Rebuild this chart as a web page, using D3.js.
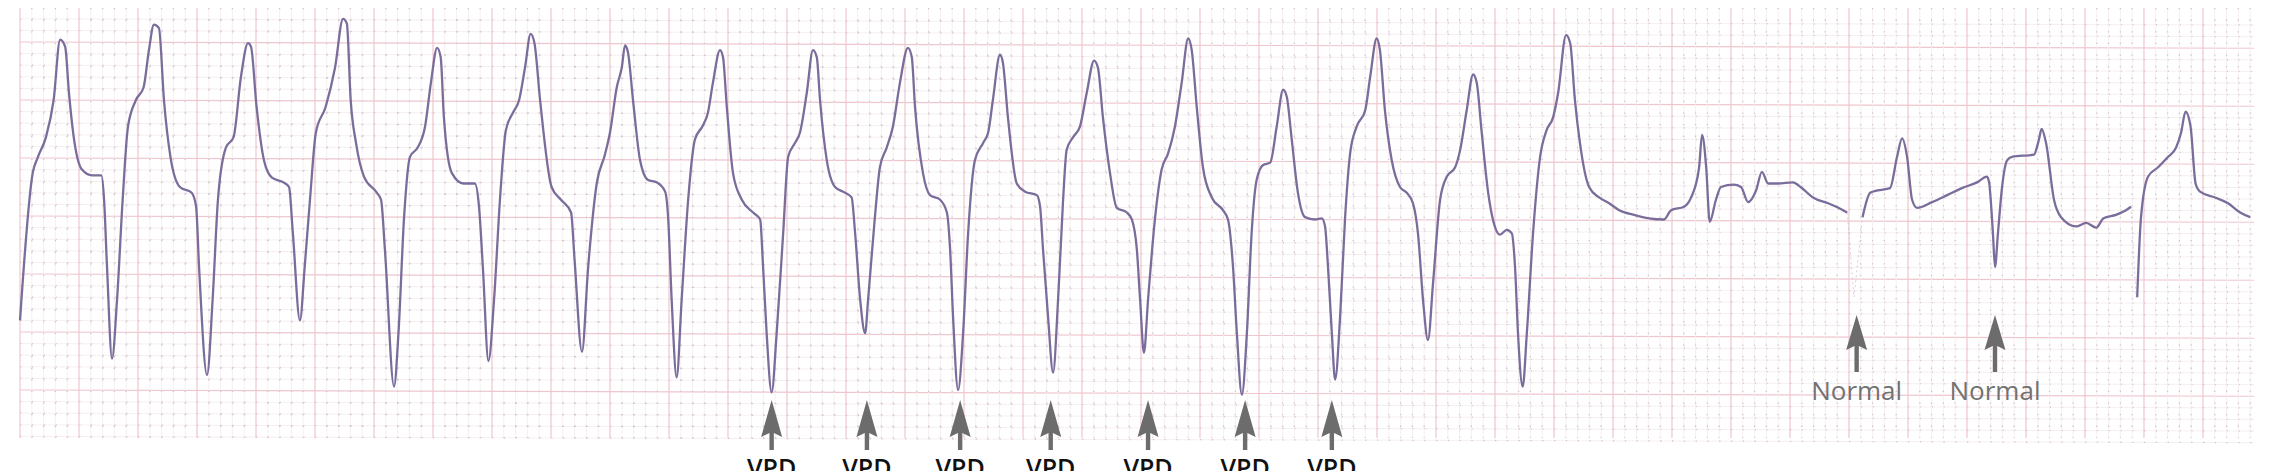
<!DOCTYPE html>
<html>
<head>
<meta charset="utf-8">
<script src="https://cdn.jsdelivr.net/npm/d3@7"></script>
<style>
  body { margin: 0; background: #fff; }
  svg { display: block; }
</style>
</head>
<body>
<script>
// width and height of the page
var w = 2279;
var h = 471;

// ECG rhythm strip: [time in ms, amplitude in mV]
// run of wide ventricular complexes up to the pause
var stripA = [
  [0,-0.90],[43,0.37],[61,0.51],[88,0.68],[114,1.00],[136,1.52],[153,1.46],[166,1.06],[185,0.63],[210,0.40],
  [244,0.35],[276,0.35],[285,0.14],[295,-0.44],[312,-1.23],[329,-0.72],[348,0.14],[366,0.77],[393,1.00],[419,1.11],
  [437,1.43],[454,1.65],[471,1.62],[488,1.00],[510,0.51],[542,0.25],[582,0.20],[597,0.08],[607,-0.44],[634,-1.37],
  [653,-0.72],[671,0.14],[698,0.59],[724,0.68],[749,1.20],[773,1.49],[783,1.46],[802,0.94],[827,0.48],[854,0.33],
  [893,0.29],[912,0.25],[925,-0.15],[949,-0.90],[965,-0.44],[983,0.14],[1003,0.72],[1036,0.94],[1068,1.28],[1095,1.70],
  [1108,1.66],[1121,1.00],[1139,0.63],[1166,0.34],[1210,0.20],[1224,0.14],[1237,-0.29],[1268,-1.47],[1283,-1.01],[1302,-0.01],
  [1322,0.51],[1348,0.59],[1373,0.77],[1393,1.15],[1414,1.45],[1426,1.37],[1437,0.85],[1464,0.37],[1504,0.28],[1542,0.28],
  [1556,0.08],[1569,-0.44],[1588,-1.25],[1607,-0.72],[1627,0.14],[1647,0.74],[1671,0.89],[1692,1.00],[1712,1.28],[1731,1.57],
  [1744,1.49],[1763,1.00],[1802,0.25],[1834,0.14],[1868,0.03],[1880,-0.38],[1905,-1.17],[1926,-0.44],[1955,0.28],[1983,0.53],
  [2000,0.72],[2023,1.11],[2040,1.28],[2051,1.47],[2061,1.41],[2078,1.00],[2102,0.48],[2129,0.31],[2158,0.29],[2187,0.21],
  [2197,-0.01],[2209,-0.72],[2226,-1.39],[2243,-0.72],[2265,0.14],[2288,0.66],[2315,0.78],[2332,0.89],[2349,1.15],[2373,1.43],
  [2383,1.37],[2396,0.94],[2417,0.37],[2447,0.14],[2485,0.03],[2509,-0.03],[2519,-0.44],[2531,-1.01],[2548,-1.52],[2565,-1.01],
  [2587,-0.15],[2604,0.51],[2627,0.63],[2644,0.72],[2667,1.06],[2688,1.43],[2701,1.37],[2712,1.00],[2735,0.48],[2763,0.25],
  [2790,0.21],[2819,0.16],[2831,-0.15],[2848,-0.72],[2865,-1.01],[2875,-0.72],[2898,-0.01],[2915,0.42],[2938,0.59],[2959,0.77],
  [2983,1.15],[3010,1.45],[3023,1.37],[3034,0.94],[3061,0.37],[3085,0.18],[3119,0.14],[3142,0.03],[3153,-0.29],[3163,-0.87],
  [3180,-1.50],[3197,-1.01],[3214,-0.15],[3237,0.48],[3265,0.63],[3282,0.72],[3298,1.00],[3322,1.39],[3332,1.32],[3349,0.85],
  [3379,0.28],[3407,0.21],[3447,0.18],[3458,0.08],[3468,-0.29],[3485,-0.87],[3502,-1.35],[3519,-0.72],[3536,0.14],[3548,0.57],
  [3570,0.68],[3593,0.77],[3616,1.06],[3641,1.34],[3654,1.28],[3671,0.85],[3695,0.37],[3718,0.07],[3752,0.03],[3769,-0.03],
  [3786,-0.29],[3797,-0.72],[3810,-1.18],[3824,-0.72],[3848,-0.01],[3870,0.40],[3892,0.54],[3915,0.77],[3938,1.15],[3960,1.53],
  [3972,1.43],[3989,0.94],[4010,0.42],[4040,0.16],[4078,0.05],[4095,-0.03],[4112,-0.44],[4125,-1.01],[4142,-1.54],[4159,-1.01],
  [4175,-0.15],[4192,0.31],[4214,0.44],[4238,0.46],[4260,0.77],[4282,1.09],[4294,1.03],[4311,0.66],[4332,0.20],[4356,-0.01],
  [4390,-0.03],[4413,-0.02],[4424,-0.09],[4434,-0.44],[4447,-1.01],[4458,-1.41],[4475,-0.87],[4492,-0.01],[4509,0.54],[4531,0.77],
  [4560,0.91],[4577,1.20],[4599,1.53],[4610,1.43],[4627,0.91],[4650,0.48],[4678,0.25],[4701,0.20],[4722,0.11],[4739,-0.15],
  [4756,-0.72],[4773,-1.07],[4790,-0.58],[4814,0.14],[4837,0.34],[4865,0.42],[4882,0.57],[4904,0.91],[4926,1.22],[4938,1.15],
  [4955,0.72],[4977,0.20],[4993,-0.03],[5017,-0.16],[5040,-0.12],[5057,-0.15],[5068,-0.44],[5078,-1.01],[5094,-1.47],[5108,-1.01],
  [5129,-0.15],[5153,0.51],[5175,0.74],[5197,0.85],[5214,1.06],[5241,1.56],[5255,1.49],[5271,1.00],[5288,0.63],[5319,0.25],
  [5353,0.16],[5387,0.11],[5421,0.05],[5471,0.01],[5522,-0.02],[5573,-0.03],[5597,0.05],[5641,0.08],[5665,0.16],[5692,0.42],
  [5702,0.70],[5716,0.42],[5728,-0.05],[5749,0.14],[5766,0.25],[5809,0.27],[5834,0.25],[5858,0.12],[5885,0.22],[5905,0.38],
  [5926,0.28],[5960,0.28],[6010,0.29],[6036,0.25],[6078,0.16],[6129,0.11],[6180,0.05],[6194,0.03]
];
// barely printed QRS under the first "Normal" arrow
var faintQrs1 = [[6194,0.03],[6217,-0.70],[6246,-0.01]];
var stripB = [
  [6246,-0.01],[6272,0.20],[6297,0.22],[6339,0.24],[6363,0.51],[6380,0.67],[6397,0.51],[6414,0.14],[6431,0.07],[6482,0.12],
  [6533,0.18],[6583,0.24],[6634,0.29],[6668,0.34],[6675,0.29],[6688,-0.15],[6695,-0.44],[6705,-0.15],[6719,0.25],[6736,0.48],
  [6753,0.51],[6827,0.53],[6844,0.66],[6853,0.75],[6868,0.63],[6895,0.14],[6919,-0.01],[6970,-0.09],[7004,-0.06],[7038,-0.10],
  [7063,-0.02],[7105,0.01],[7139,0.05],[7156,0.08]
];
var faintQrs2 = [[7156,0.08],[7173,-0.70]];
var stripC = [
  [7177,-0.70],[7190,-0.01],[7214,0.34],[7248,0.42],[7282,0.51],[7309,0.59],[7326,0.72],[7341,0.90],[7358,0.77],[7375,0.28],
  [7390,0.21],[7441,0.16],[7485,0.11],[7526,0.03],[7560,-0.01]
];

// annotated beats (time in ms)
var vpdTimes = [2548, 2871, 3187, 3494, 3824, 4153, 4447];
var normalTimes = [6226, 6695];
var vpdLabel = "VPD";
var normalLabel = "Normal";

// paper: 25 mm/s, 10 mm/mV
var x = d3.scaleLinear().domain([0, 7573]).range([20, 2254]);
var y = d3.scaleLinear().domain([-1.5, 1.5]).range([390, 42]);

var svg = d3.select("body")
  .append("svg")
  .attr("width", w)
  .attr("height", h);

svg.append("rect")
  .attr("width", w)
  .attr("height", h)
  .attr("fill", "#fff");

/*
 * the grid paper: faint small squares, dotted, and pink big squares
 */
var grid = svg.append("g");
var minorT = d3.range(40, 7573, 40).filter(function(d){ return d % 200 != 0; });
var majorT = d3.range(0, 7573, 200);
var minorV = d3.range(-19, 18).map(function(d){ return d / 10; }).filter(function(d){ return Math.round(d * 10) % 5 != 0; });
var majorV = [-1.5, -1, -0.5, 0, 0.5, 1, 1.5];

// the photo is a bit tilted, horizontal rulings drop ~6px left to right
var hGrid = grid.append("g").attr("transform", "translate(20,0) skewY(0.16) translate(-20,0)");

grid.selectAll(".vminor").data(minorT).enter().append("line")
  .attr("x1", function(d){ return x(d); }).attr("x2", function(d){ return x(d); })
  .attr("y1", 8).attr("y2", 438)
  .style("stroke", "#f5ebee").style("stroke-width", 0.8);
hGrid.selectAll(".hminor").data(minorV).enter().append("line")
  .attr("x1", 20).attr("x2", 2254)
  .attr("y1", function(d){ return y(d); }).attr("y2", function(d){ return y(d); })
  .style("stroke", "#f5ebee").style("stroke-width", 0.8);

// dotted look of the small squares
grid.selectAll(".vdot").data(minorT).enter().append("line")
  .attr("x1", function(d){ return x(d); }).attr("x2", function(d){ return x(d); })
  .attr("y1", 8).attr("y2", 438)
  .style("stroke", "#cdc4ca").style("stroke-width", 1.3)
  .style("stroke-dasharray", "1.3,10.3");
hGrid.selectAll(".hdot").data(minorV).enter().append("line")
  .attr("x1", 20).attr("x2", 2254)
  .attr("y1", function(d){ return y(d); }).attr("y2", function(d){ return y(d); })
  .style("stroke", "#cdc4ca").style("stroke-width", 1.3)
  .style("stroke-dasharray", "1.3,10.5");

grid.selectAll(".vmajor").data(majorT).enter().append("line")
  .attr("x1", function(d){ return x(d); }).attr("x2", function(d){ return x(d); })
  .attr("y1", 8).attr("y2", 438)
  .style("stroke", "#efc6ce").style("stroke-width", 1.2);
hGrid.selectAll(".hmajor").data(majorV).enter().append("line")
  .attr("x1", 20).attr("x2", 2254)
  .attr("y1", function(d){ return y(d); }).attr("y2", function(d){ return y(d); })
  .style("stroke", "#efc6ce").style("stroke-width", 1.2);

/*
 * the trace
 */
var line = d3.line()
  .x(function(d){ return x(d[0]); })
  .y(function(d){ return y(d[1]); })
  .curve(d3.curveMonotoneX);

var straight = d3.line()
  .x(function(d){ return x(d[0]); })
  .y(function(d){ return y(d[1]); });

[faintQrs1, faintQrs2].forEach(function(seg){
  svg.append("path")
    .attr("d", straight(seg))
    .style("fill", "none")
    .style("stroke", "#c9c2d6")
    .style("stroke-width", 0.8)
    .style("stroke-dasharray", "2,3");
});

[stripA, stripB, stripC].forEach(function(seg){
  svg.append("path")
    .attr("d", line(seg))
    .style("fill", "none")
    .style("stroke", "#7a6d9c")
    .style("stroke-width", 2.3)
    .style("stroke-linejoin", "round");
});

/*
 * arrows and labels
 */
function arrow(len, head){
  return "M0,0 L10.5," + head + " L2.2," + (head - 4) + " L2.2," + len +
         " L-2.2," + len + " L-2.2," + (head - 4) + " L-10.5," + head + " Z";
}

svg.selectAll(".vpd").data(vpdTimes).enter().append("path")
  .attr("transform", function(d){ return "translate(" + x(d) + ",400)"; })
  .attr("d", arrow(50, 37))
  .style("fill", "#6c6c6c");

// labels sit at the paper's bottom edge, cut as in the original strip
svg.selectAll(".vpdtext").data(vpdTimes).enter().append("text")
  .attr("x", function(d){ return x(d); })
  .attr("y", 477)
  .attr("text-anchor", "middle")
  .text(vpdLabel)
  .style("fill", "#111")
  .style("font-family", "Open Sans")
  .style("font-weight", 600)
  .style("font-size", "25px");

svg.selectAll(".norm").data(normalTimes).enter().append("path")
  .attr("transform", function(d){ return "translate(" + x(d) + ",315)"; })
  .attr("d", arrow(57, 35))
  .style("fill", "#6c6c6c");

svg.selectAll(".normtext").data(normalTimes).enter().append("text")
  .attr("x", function(d){ return x(d); })
  .attr("y", 400)
  .attr("text-anchor", "middle")
  .text(normalLabel)
  .style("fill", "#727272")
  .style("font-family", "Open Sans")
  .style("font-size", "26px");
</script>
</body>
</html>
